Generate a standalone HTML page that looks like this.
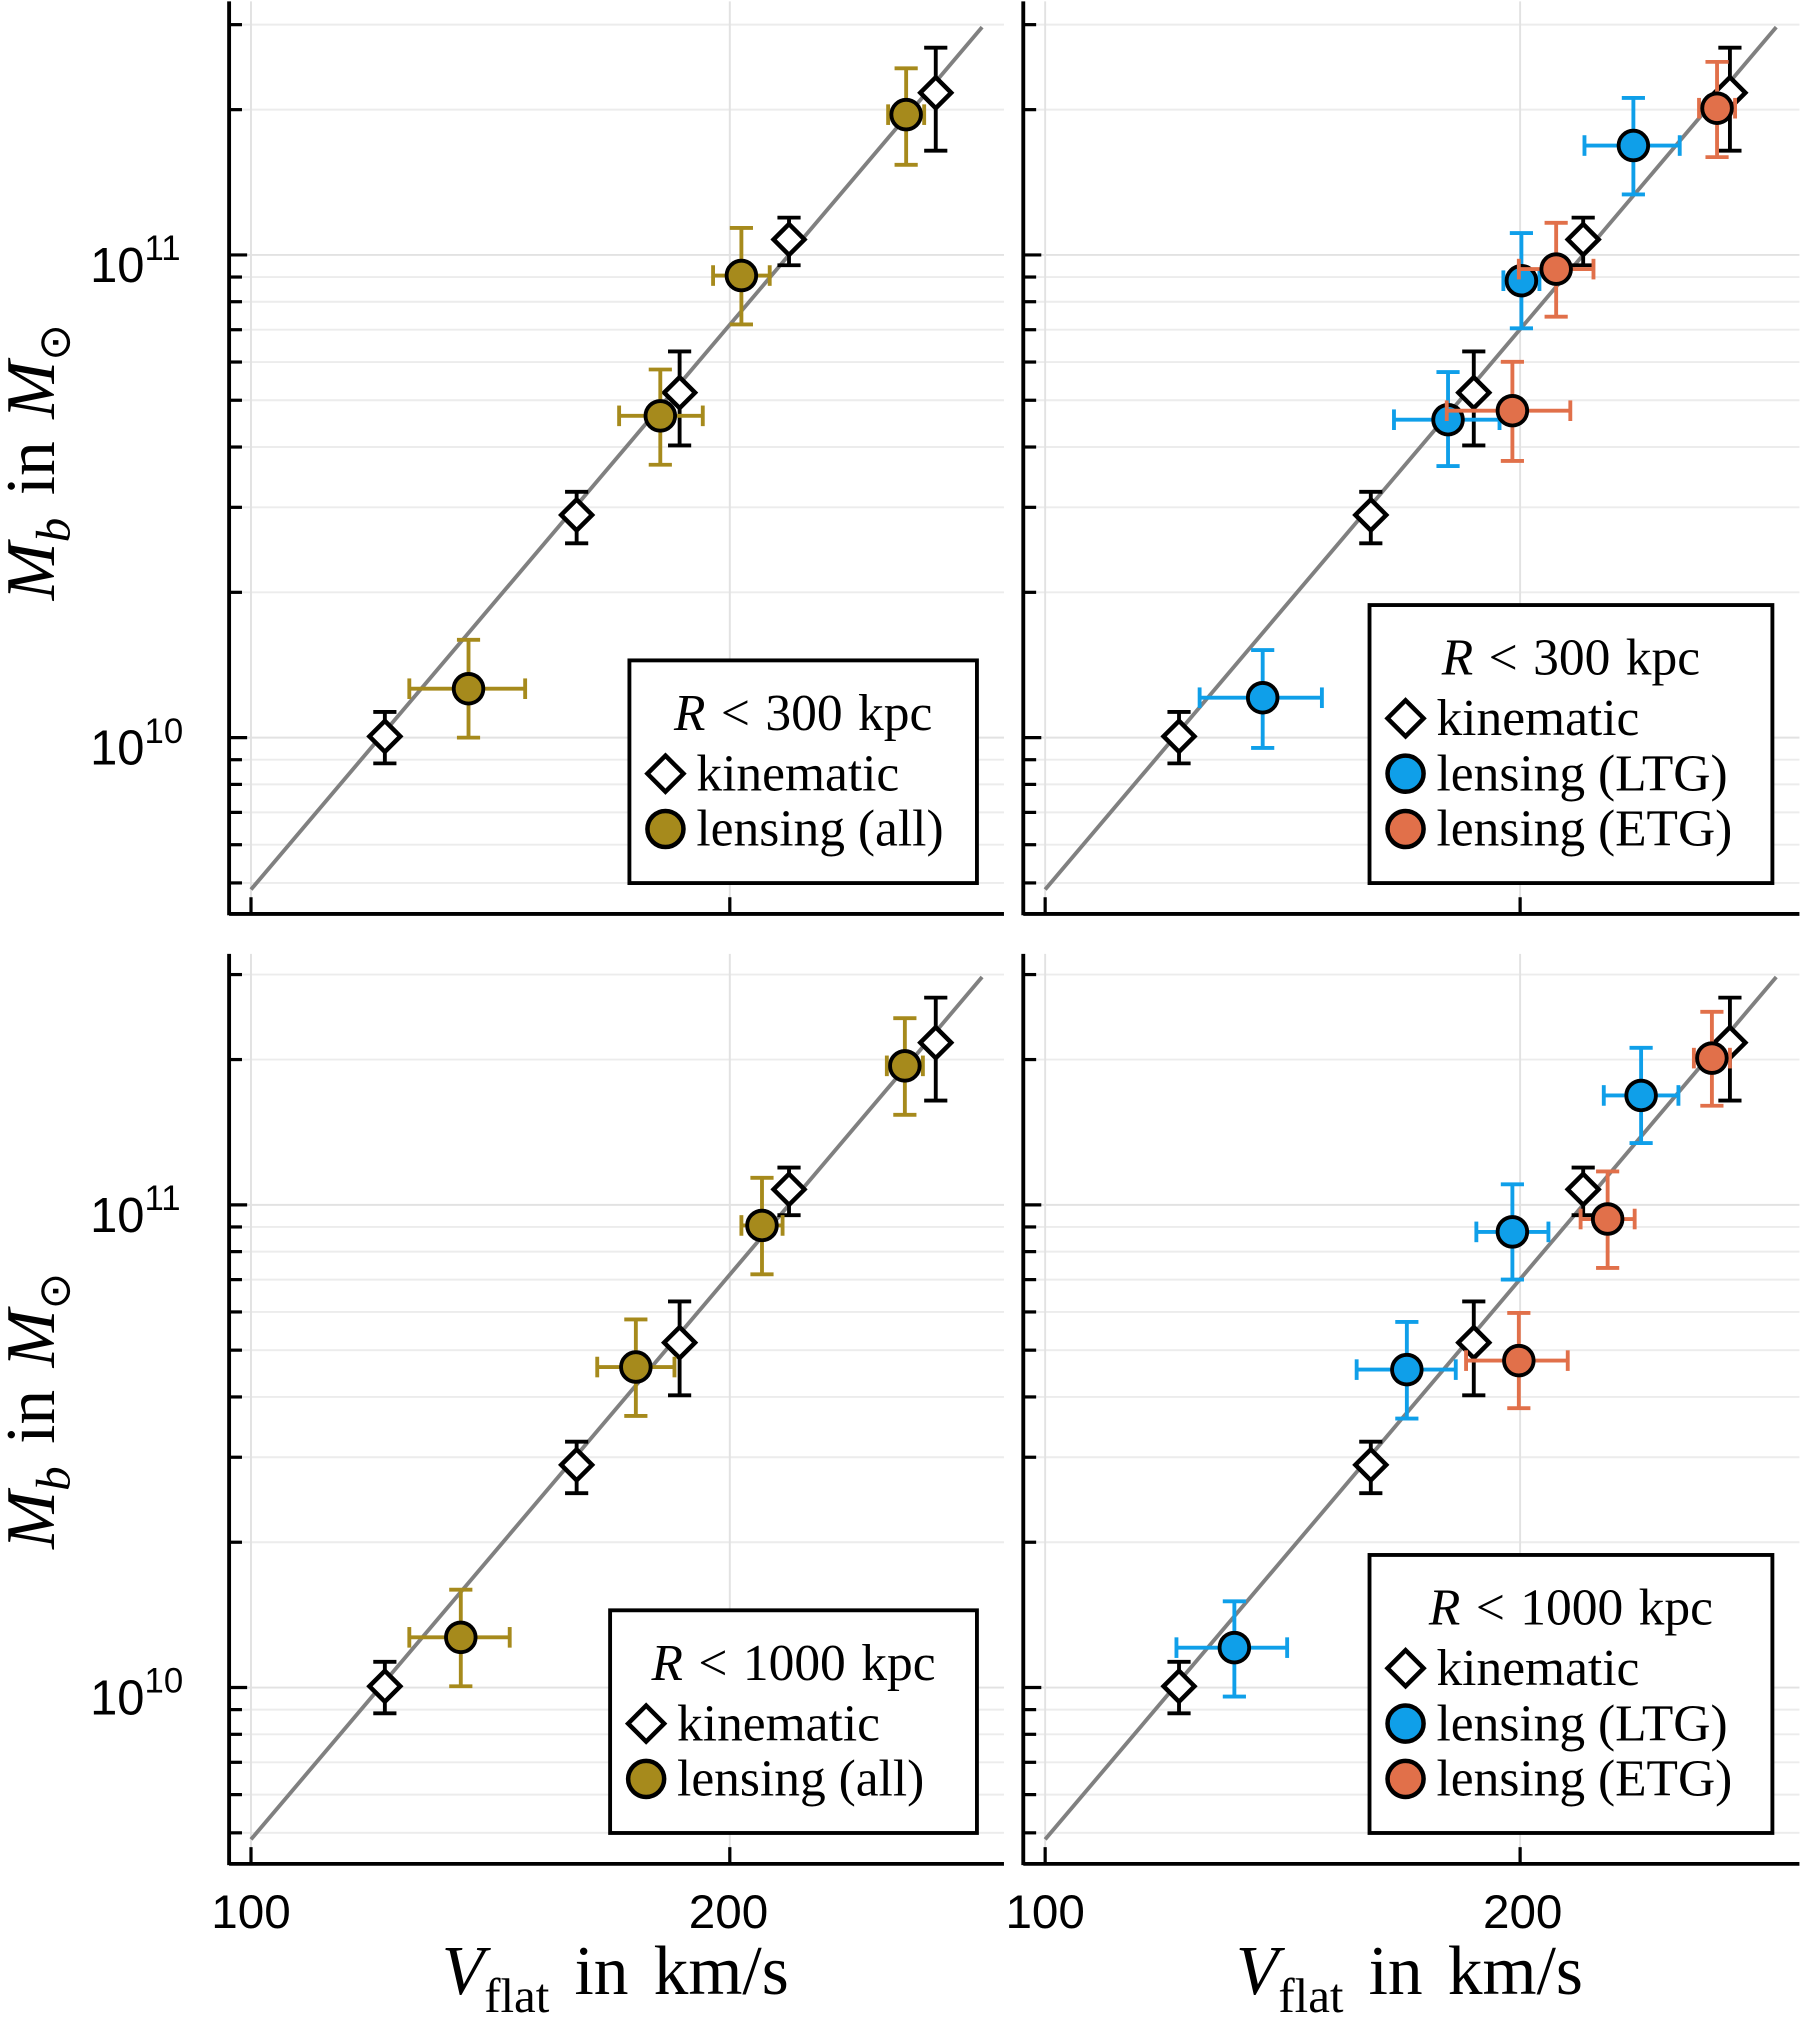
<!DOCTYPE html>
<html><head><style>html,body{margin:0;padding:0;background:#fff}svg{display:block}</style></head>
<body>
<svg id="s" width="1802" height="2021" viewBox="0 0 1400 1568" xmlns="http://www.w3.org/2000/svg" font-family="Liberation Serif, serif"></svg>
<script>
const s=document.getElementById('s');let h='';
const OL='#a68a1c',BL='#0f9fe9',OR='#e1704a';
function panel(x0,x1,yt,yb,y10,xoff){
 const vals=[];for(let k=9;k<=11;k++)for(let m=1;m<=9;m++)vals.push([m,k]);
 for(const [m,k] of vals){const y=y10-375*(k-10+Math.log10(m));if(y<yt||y>yb)continue;
  h+=`<line x1="${x0}" x2="${x1}" y1="${y}" y2="${y}" stroke="${m==1?'#e2e2e2':'#ececec'}" stroke-width="1.5"/>`;
  h+=`<line x1="${x0}" x2="${x0+(m==1?14:10)}" y1="${y}" y2="${y}" stroke="#000" stroke-width="2.5"/>`;}
 for(const xv of [195+xoff,567+xoff-(xoff?3:0)]){h+=`<line x1="${xv}" x2="${xv}" y1="${yt}" y2="${yb}" stroke="#e2e2e2" stroke-width="1.5"/><line x1="${xv}" x2="${xv}" y1="${yb-13}" y2="${yb}" stroke="#000" stroke-width="2.5"/>`;}
 h+=`<line x1="${x0}" x2="${x0}" y1="${yt}" y2="${yb+1}" stroke="#000" stroke-width="3"/><line x1="${x0}" x2="${x1}" y1="${yb}" y2="${yb}" stroke="#000" stroke-width="3"/>`;
 h+=`<line x1="${195+xoff}" y1="${yb-19}" x2="${763+xoff}" y2="${yb-689}" stroke="#808080" stroke-width="3"/>`;
}
function err(x,y,xl,xr,yt,yb,c){let r='';
 if(xl!=null)r+=`<line x1="${xl}" x2="${xr}" y1="${y}" y2="${y}" stroke="${c}" stroke-width="3"/><line x1="${xl}" x2="${xl}" y1="${y-8}" y2="${y+8}" stroke="${c}" stroke-width="3"/><line x1="${xr}" x2="${xr}" y1="${y-8}" y2="${y+8}" stroke="${c}" stroke-width="3"/>`;
 r+=`<line x1="${x}" x2="${x}" y1="${yt}" y2="${yb}" stroke="${c}" stroke-width="3"/><line x1="${x-9}" x2="${x+9}" y1="${yt}" y2="${yt}" stroke="${c}" stroke-width="3"/><line x1="${x-9}" x2="${x+9}" y1="${yb}" y2="${yb}" stroke="${c}" stroke-width="3"/>`;h+=r;}
function dia(x,y){h+=`<path d="M${x} ${y-12}L${x+12} ${y}L${x} ${y+12}L${x-12} ${y}Z" fill="#fff" stroke="#000" stroke-width="3.5"/>`;}
function circ(x,y,c){h+=`<circle cx="${x}" cy="${y}" r="11.5" fill="${c}" stroke="#000" stroke-width="3"/>`;}
function kin(xo,yo){const d=[[299,571,552,592],[448,399,381,421],[528,304,272,345],[613,185,168,205],[727,71,36,116]];
 for(const p of d)err(p[0]+xo,p[1]+yo,null,null,p[2]+yo,p[3]+yo,'#000');for(const p of d)dia(p[0]+xo,p[1]+yo);}
function pts(list,c){for(const p of list)err(p[0],p[1],p[2],p[3],p[4],p[5],c);for(const p of list)circ(p[0],p[1],c);}
function legend(x0,y0,x1,y1,title,items){
 h+=`<rect x="${x0}" y="${y0}" width="${x1-x0}" height="${y1-y0}" fill="#fff" stroke="#000" stroke-width="3"/>`;
 const cx=(x0+x1)/2;h+=`<text x="${cx}" y="${y0+54}" font-size="40" text-anchor="middle" word-spacing="2"><tspan font-style="italic">R</tspan> &lt; ${title}</text>`;
 items.forEach((it,i)=>{const y=y0+88+i*43;const mx=x0+28;
  if(it[0]=='d')h+=`<path d="M${mx} ${y-14}L${mx+14} ${y}L${mx} ${y+14}L${mx-14} ${y}Z" fill="#fff" stroke="#000" stroke-width="3.5"/>`;else h+=`<circle cx="${mx}" cy="${y}" r="14" fill="${it[0]}" stroke="#000" stroke-width="3.5"/>`;
  h+=`<text x="${mx+24}" y="${y+13}" font-size="40">${it[1]}</text>`;});}
panel(178,780,0,709,572,0);panel(795,1398,0,709,572,617);panel(178,780,740,1447,1310,0);panel(795,1398,740,1447,1310,617);
kin(0,0);kin(617,0);kin(0,738);kin(617,738);
pts([[364,534,318,408,496,572],[513,322,481,546,286,360],[576,213,554,598,176,251],[704,88,690,718,52,127]],OL);
pts([[981,541,932,1027,504,580],[1125,325,1083,1165,288,361],[1182,217,1168,1196,180,254],[1269,112,1231,1305,75,150]],BL);
pts([[1175,318,1124,1220,280,357],[1209,208,1180,1238,172,245],[1334,83,1320,1348,47,121]],OR);
pts([[358,1271,318,396,1234,1309],[494,1061,464,524,1024,1099],[592,951,576,608,914,989],[703,827,689,717,790,865]],OL);
pts([[959,1279,914,1000,1243,1317],[1093,1063,1054,1131,1026,1101],[1175,956,1147,1203,919,993],[1275,850,1246,1304,813,887]],BL);
pts([[1180,1056,1139,1218,1019,1093],[1249,946,1228,1270,909,984],[1330,821,1316,1344,785,858]],OR);
legend(489,512,759,685,'300 kpc',[['d','kinematic'],[OL,'lensing (all)']]);
legend(1064,469,1377,685,'300 kpc',[['d','kinematic'],[BL,'lensing (LTG)'],[OR,'lensing (ETG)']]);
legend(474,1250,759,1423,'1000 kpc',[['d','kinematic'],[OL,'lensing (all)']]);
legend(1064,1207,1377,1423,'1000 kpc',[['d','kinematic'],[BL,'lensing (LTG)'],[OR,'lensing (ETG)']]);
const sf='font-family="Liberation Sans, sans-serif"';
for(const [yy] of [[572],[1310]]){for(const [e,dy] of [['10',0],['11',-375]]){
 h+=`<text x="70" y="${yy+dy+21}" font-size="38" ${sf}>10<tspan dy="-17" font-size="27">${e}</tspan></text>`;}}
for(const xo of [0,617]){h+=`<text x="${195+xo}" y="1497" font-size="37" text-anchor="middle" ${sf}>100</text><text x="${566+xo}" y="1497" font-size="37" text-anchor="middle" ${sf}>200</text>`;
 h+=`<text x="${478+xo}" y="1548" font-size="54" text-anchor="middle" word-spacing="6"><tspan font-style="italic">V</tspan><tspan dy="14" font-size="38">flat</tspan><tspan dy="-14"> in km/s</tspan></text>`;}
for(const cy of [358,1095])h+=`<text transform="translate(42,${cy}) rotate(-90)" font-size="54" text-anchor="middle" word-spacing="4"><tspan font-style="italic">M</tspan><tspan dy="12" font-size="38" font-style="italic">b</tspan><tspan dy="-12"> in </tspan><tspan font-style="italic">M</tspan><tspan dy="12" font-size="34">⊙</tspan></text>`;
s.innerHTML=h;
</script>
</body></html>
